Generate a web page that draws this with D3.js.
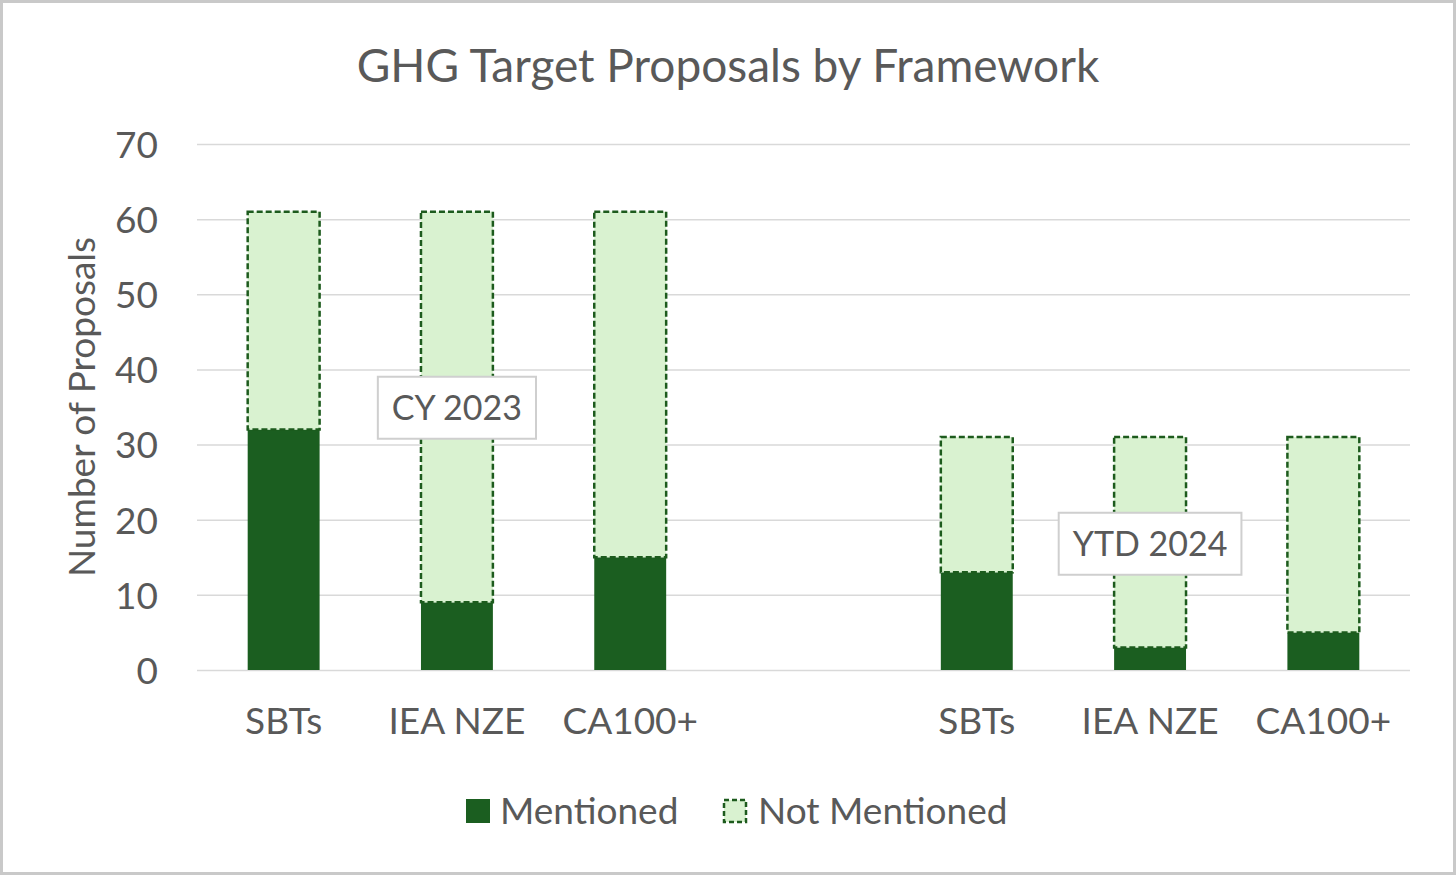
<!DOCTYPE html>
<html>
<head>
<meta charset="utf-8">
<script src="https://cdn.jsdelivr.net/npm/d3@7"></script>
<style>
  body { margin: 0; background: #fff; }
  svg text { font-family: "Lato", "Open Sans", sans-serif; fill: #595959; }
</style>
</head>
<body>
<div id="chart"></div>
<script>
// categories (slot 4 is an empty spacer between the two years)
var slots = ["a1", "a2", "a3", "gap", "b1", "b2", "b3"];
var labels = ["SBTs", "IEA NZE", "CA100+", "", "SBTs", "IEA NZE", "CA100+"];
var mentioned = [32, 9, 15, null, 13, 3, 5];
var notMentioned = [29, 52, 46, null, 18, 28, 26];
var yTicks = [0, 10, 20, 30, 40, 50, 60, 70];
var notes = [{text: "CY 2023", slot: "a2", y: 34.9}, {text: "YTD 2024", slot: "b2", y: 16.8}];

var W = 1456, H = 875;
var margin = {top: 144, right: 46, bottom: 205, left: 197},
  width = W - margin.left - margin.right,
  height = H - margin.top - margin.bottom;

var svg = d3.select("#chart").append("svg")
  .attr("width", W).attr("height", H);

//outer frame
svg.append("rect")
  .attr("x", 1.5).attr("y", 1.5).attr("width", W - 3).attr("height", H - 3)
  .attr("fill", "#fff").attr("stroke", "#c9c9c9").attr("stroke-width", 3);

var g = svg.append("g")
  .attr("transform", "translate(" + margin.left + "," + margin.top + ")");

var x = d3.scaleBand().domain(slots).range([0, width]).paddingInner(0.585).paddingOuter(0.2925);
var y = d3.scaleLinear().domain([0, 70]).range([height, 0]);

//gridlines + y labels
var yAxis = g.append("g")
  .call(d3.axisLeft(y).tickValues(yTicks).tickSize(-width).tickPadding(39));
yAxis.select(".domain").remove();
yAxis.selectAll(".tick line").attr("stroke", "#d9d9d9").attr("stroke-width", 1.5);
yAxis.selectAll(".tick text").style("font-size", "37px").attr("fill", "#595959").attr("dy", "0.36em");

//x labels
var xAxis = g.append("g")
  .attr("transform", "translate(0," + height + ")")
  .call(d3.axisBottom(x).tickSize(0).tickPadding(38).tickFormat(function(d, i) { return labels[i]; }));
xAxis.select(".domain").remove();
xAxis.selectAll(".tick text").style("font-size", "37px").attr("fill", "#595959").attr("dy", "0.71em");

var rows = slots.map(function(s, i) { return {slot: s, m: mentioned[i], n: notMentioned[i]}; })
  .filter(function(d) { return d.m !== null; });

var dark = "#1b5e20", light = "#d9f2d0", dashCol = "#1d5b1d";

//mentioned
g.selectAll(".m").data(rows).enter().append("rect")
  .attr("x", function(d) { return x(d.slot); })
  .attr("width", x.bandwidth())
  .attr("y", function(d) { return y(d.m); })
  .attr("height", function(d) { return y(0) - y(d.m); })
  .attr("fill", dark);

//not mentioned
g.selectAll(".n").data(rows).enter().append("rect")
  .attr("x", function(d) { return x(d.slot); })
  .attr("width", x.bandwidth())
  .attr("y", function(d) { return y(d.m + d.n); })
  .attr("height", function(d) { return y(d.m) - y(d.m + d.n); })
  .attr("fill", light)
  .attr("stroke", dashCol).attr("stroke-width", 2.5).attr("stroke-dasharray", "6,3");

//annotation boxes
notes.forEach(function(a) {
  var cx = x(a.slot) + x.bandwidth() / 2, cy = y(a.y);
  var t = g.append("text").text(a.text)
    .attr("x", cx).attr("y", cy).attr("text-anchor", "middle").attr("dy", "0.36em")
    .style("font-size", "34px");
  var bb = t.node().getBBox();
  g.insert("rect", function() { return t.node(); })
    .attr("x", bb.x - 14).attr("y", cy - 31).attr("width", bb.width + 28).attr("height", 62)
    .attr("fill", "#fff").attr("stroke", "#cfcfcf").attr("stroke-width", 2);
});

//title
svg.append("text").text("GHG Target Proposals by Framework")
  .attr("x", 728).attr("y", 82).attr("text-anchor", "middle")
  .style("font-size", "46px");

//y axis title
svg.append("text").text("Number of Proposals")
  .attr("transform", "translate(95,407) rotate(-90)").attr("text-anchor", "middle")
  .style("font-size", "37px");

//legend
var legend = svg.append("g").attr("transform", "translate(466,799)");
legend.append("rect").attr("width", 24).attr("height", 24).attr("fill", dark);
legend.append("text").text("Mentioned").attr("x", 34).attr("y", 25).style("font-size", "37px");
legend.append("rect").attr("x", 258).attr("y", 1).attr("width", 22).attr("height", 22)
  .attr("fill", light).attr("stroke", dashCol).attr("stroke-width", 2.5).attr("stroke-dasharray", "5,3");
legend.append("text").text("Not Mentioned").attr("x", 292).attr("y", 25).style("font-size", "37px");
</script>
</body>
</html>
